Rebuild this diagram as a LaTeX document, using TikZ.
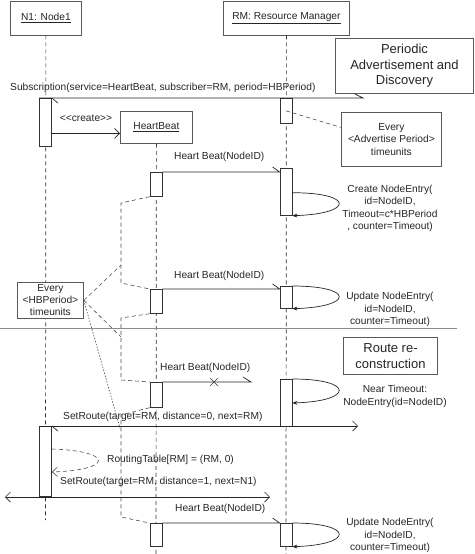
\documentclass[tikz,border=0pt]{standalone}
\usepackage{fontspec}
\setmainfont{Liberation Sans}
\usetikzlibrary{arrows.meta,shapes.misc}
\begin{document}
\begin{tikzpicture}[x=1pt,y=-1pt,
  font=\fontsize{10.2}{12.3}\selectfont,
  life/.style={draw=black!80, dash pattern=on 4pt off 3pt, line width=0.7pt},
  act/.style={draw=black!80, fill=white, minimum width=12pt, inner sep=0pt, anchor=north, line width=0.7pt},
  msg/.style={draw=black!85, line width=0.7pt},
  box/.style={draw=black!65, fill=white, inner sep=0pt, line width=0.8pt, anchor=north west, align=center, text=black!85},
  bigtxt/.style={font=\fontsize{13}{15.5}\selectfont},
  txt/.style={text=black!85, inner sep=0pt, align=center},
  lbl/.style={text=black!85, inner sep=0pt, anchor=west},
  brk/.style={draw=black!70, dash pattern=on 4pt off 3pt, line width=0.6pt},
  dotl/.style={draw=black!70, dash pattern=on 1.5pt off 1.5pt, line width=0.6pt},
  barb/.style={-{Straight Barb[length=5pt,width=10pt]}},
  loop/.style={msg, -{Stealth[length=5pt,width=4pt]}},
  sep/.style={draw=black!45, line width=0.8pt}
]
\useasboundingbox (0,0) rectangle (474,554);

% header boxes
\node[box, minimum width=71pt, minimum height=34pt] (n1) at (10,0.5) {\underline{N1: Node1}};
\node[box, minimum width=126pt, minimum height=34pt] (rm) at (223,0.5) {\underline{RM: Resource Manager}};
\node[box, minimum width=72pt, minimum height=32pt] (hb) at (120,111) {\underline{HeartBeat}};

% lifeline ends
\coordinate (n1end) at (45.5,520);
\coordinate (hbend) at (156,554);
\coordinate (rmend) at (286,554);

\draw[life] (n1.south) -- (n1end);
\draw[life] (hb.south) -- (hbend);
\draw[life] (rm.south) -- (rmend);

% separator
\coordinate (sepL) at (0,328);
\coordinate (sepR) at (457,328);
\draw[sep] (sepL) -- (sepR);

% section boxes
\node[box, bigtxt, minimum width=138pt, minimum height=55pt, line width=1pt] (pad) at (335,38) {Periodic\\Advertisement and\\Discovery};
\node[box, bigtxt, minimum width=94pt, minimum height=37pt, line width=1pt] (route) at (343,337) {Route re-\\construction};

% notes
\node[box, minimum width=100pt, minimum height=54pt] (note1) at (341,112) {Every\\<Advertise Period>\\timeunits};
\node[box, minimum width=66pt, minimum height=36pt, font=\fontsize{10.2}{12}\selectfont] (note2) at (17,282) {Every\\<HBPeriod>\\timeunits};

% activations
\node[act, minimum height=48pt] (n1a1) at (45.5,98) {};
\node[act, minimum height=25pt] (rma1) at (286,98) {};
\node[act, minimum height=24pt] (hba1) at (156,172) {};
\node[act, minimum height=47pt] (rma2) at (286,168) {};
\node[act, minimum height=24pt] (hba2) at (156,289) {};
\node[act, minimum height=22pt] (rma3) at (286,286) {};
\node[act, minimum height=25pt] (hba3) at (156,382) {};
\node[act, minimum height=47pt] (rma4) at (286,379) {};
\node[act, minimum height=70pt] (n1a2) at (45.5,426) {};
\node[act, minimum height=23pt] (hba4) at (156,523) {};
\node[act, minimum height=23pt] (rma5) at (286,523) {};

% note1 connector
\draw[brk] (rma1.center) -- ([yshift=12pt]note1.west);

% Subscription
\node[lbl] (tsub) at (10,88) {Subscription(service=HeartBeat, subscriber=RM, period=HBPeriod)};
\coordinate (subend) at (363,98);
\draw[msg] (n1a1.north west) -- (subend) -- ++(-8,-4);
\draw[msg] (n1a1.north east) -- ++(6,5);

% create
\node[txt] (tcr) at (86,118) {<{}<create>{}>};
\coordinate (cr) at ([yshift=-6pt]hb.west);
\draw[msg, barb] (n1a1.east |- cr) -- (cr);

% Heart beat 1
\node[lbl] (thb1) at (174,157) {Heart Beat(NodeID)};
\draw[msg] (hba1.north east) -- (rma2.west |- hba1.north east) -- ++(-7,-5);
\draw[loop] ([yshift=23pt]rma2.south east) .. controls +(62,0) and +(62,-2) .. (rma2.south east);
\node[txt] (tce) at (390,208.5) {Create NodeEntry(\\id=NodeID,\\Timeout=c*HBPeriod\\, counter=Timeout)};

% Heart beat 2
\node[lbl] (thb2) at (174,276) {Heart Beat(NodeID)};
\draw[msg] (hba2.north east) -- (rma3.west |- hba2.north east) -- ++(-7,-5);
\draw[loop] (rma3.north east) .. controls +(62,0) and +(62,-2) .. (rma3.south east);
\node[txt] (tue1) at (390,309.5) {Update NodeEntry(\\id=NodeID,\\counter=Timeout)};

% Heart beat 3 (lost)
\node[lbl] (thb3) at (160,368) {Heart Beat(NodeID)};
\coordinate (lost) at (251,382);
\draw[msg] (hba3.north east) -- (lost) -- ++(-8,-5);
\node[cross out, draw=black!80, line width=0.6pt, minimum size=7pt, inner sep=0pt] (xm) at (214,382) {};
\draw[loop] (rma4.north east) .. controls +(62,0) and +(62,-2) .. ([yshift=-24pt]rma4.north east);
\node[txt] (tnt) at (395,396.5) {Near Timeout:\\NodeEntry(id=NodeID)};

% SetRoute 1
\node[lbl] (tsr1) at (63,417) {SetRoute(target=RM, distance=0, next=RM)};
\coordinate (sr1end) at (358,426);
\draw[msg, barb] (n1a2.north west) -- (sr1end);
\draw[msg] (n1a2.north east) -- ++(6,5);

% routing table self call
\draw[brk, -{Straight Barb[length=5pt,width=9pt]}] ([yshift=-23pt]n1a2.north east) .. controls +(62,2) and +(62,-2) .. ([yshift=-46pt]n1a2.north east);
\node[lbl] (trt) at (107,460) {RoutingTable[RM] = (RM, 0)};

% SetRoute 2
\node[lbl] (tsr2) at (60,482) {SetRoute(target=RM, distance=1, next=N1)};
\coordinate (sr2l) at (5,497);
\coordinate (sr2r) at (270,497);
\draw[msg, {Straight Barb[length=5pt,width=10pt]}-{Straight Barb[length=5pt,width=10pt]}] (sr2l) -- (sr2r);

% Heart beat 4
\node[lbl] (thb4) at (175,509) {Heart Beat(NodeID)};
\draw[msg] (hba4.north east) -- (rma5.north west) -- ++(-7,-5);
\draw[loop] (rma5.north east) .. controls +(62,0) and +(62,-2) .. (rma5.south east);
\node[txt] (tue2) at (390,535.5) {Update NodeEntry(\\id=NodeID,\\counter=Timeout)};

% HBPeriod brackets
\coordinate (b1a) at (121,203); \coordinate (b1m) at (121,265); \coordinate (b1b) at (121,283);
\coordinate (b2a) at (121,318); \coordinate (b2m) at (121,337); \coordinate (b2b) at (121,380);
\coordinate (b3a) at (121,415); \coordinate (b3m) at (120,428); \coordinate (b3b) at (121,517);
\draw[brk] (hba1.south west) -- (b1a) -- (b1b) -- (hba2.north west);
\draw[brk] (hba2.south west) -- (b2a) -- (b2b) -- (hba3.north west);
\draw[brk] (hba3.south west) -- (b3a) -- (b3b) -- (hba4.north west);
\draw[brk] (note2.east) -- (b1m);
\draw[brk] (note2.east) -- (b2m);
\draw[dotl] (note2.east) -- (b3m);
\end{tikzpicture}
\end{document}
